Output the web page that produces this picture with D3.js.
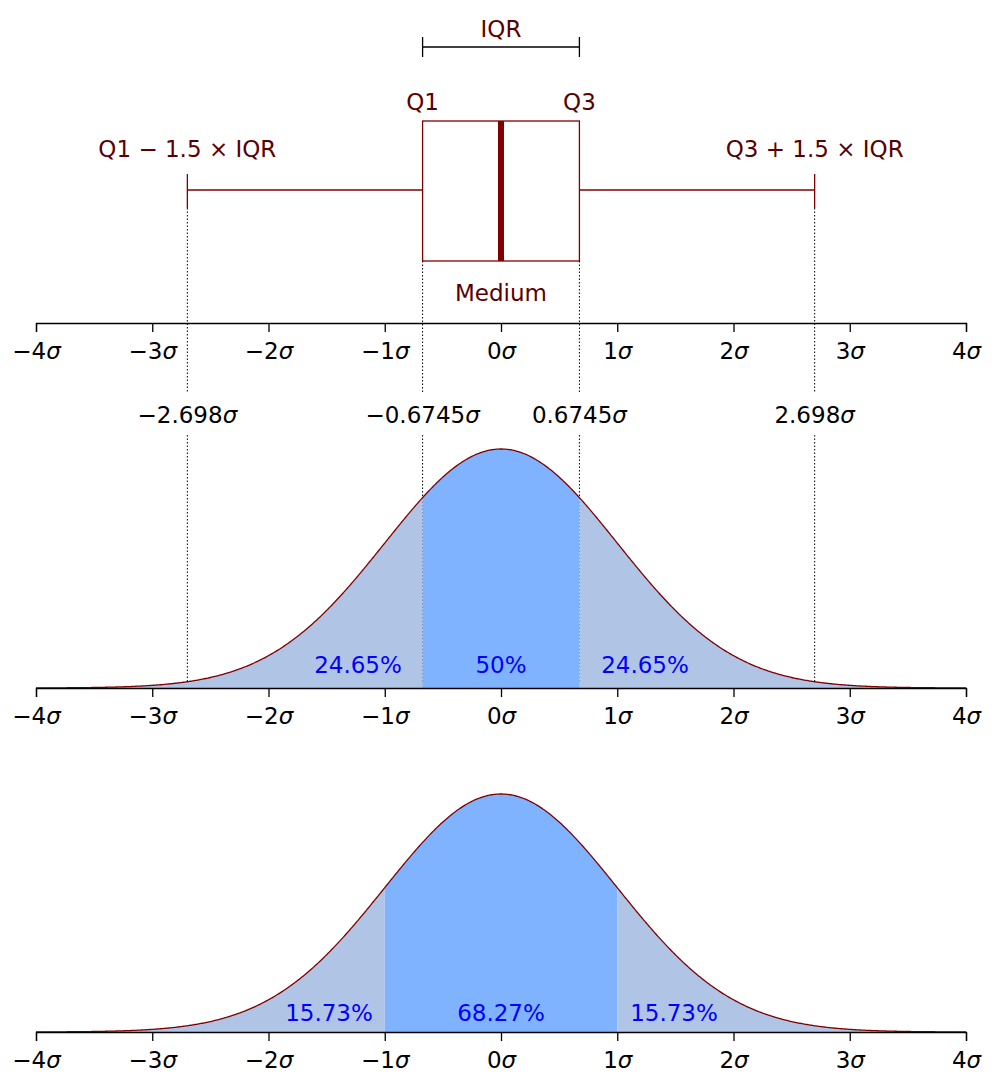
<!DOCTYPE html>
<html><head><meta charset="utf-8">
<script src="https://cdn.jsdelivr.net/npm/d3@7.9.0/dist/d3.min.js"></script>
<style>
body{margin:0;background:#fff}
text{font-family:"DejaVu Sans",sans-serif;font-size:23px}
</style></head><body>
<svg id="chart" width="1000" height="1090"></svg>
<script>
const ticks = [-4, -3, -2, -1, 0, 1, 2, 3, 4];
const quartiles = [-0.6745, 0.6745];
const whiskers = [-2.698, 2.698];
const quartileLabels = ['−2.698', '−0.6745', '0.6745', '2.698'];
const iqrAreas = [[-2.698, -0.6745, '24.65%'], [-0.6745, 0.6745, '50%'], [0.6745, 2.698, '24.65%']];
const sigmaAreas = [[-4, -1, '15.73%'], [-1, 1, '68.27%'], [1, 4, '15.73%']];

const svg = d3.select('#chart');
const x = d3.scaleLinear().domain([-4, 4]).range([36, 966]);
const dark = '#800000', txt = '#5a0000';
const pdf = v => Math.exp(-v * v / 2) / Math.sqrt(2 * Math.PI);

function axis(y0) {
  const g = svg.append('g').attr('transform', `translate(0,${y0})`);
  g.call(d3.axisBottom(x).tickValues(ticks).tickSize(9).tickPadding(6).tickFormat(() => ''));
  g.select('.domain').attr('stroke-width', 1.3);
  g.selectAll('.tick line').attr('stroke-width', 1.3);
  g.selectAll('.tick').append('text').attr('fill', '#000').attr('y', 36)
    .attr('text-anchor', 'middle').style('font-size', '23px')
    .html(d => `${d < 0 ? '−' + (-d) : d}<tspan font-style="italic">σ</tspan>`);
}

// box plot
const by0 = 121, by1 = 261, bym = 190;
svg.append('line').attr('x1', x(quartiles[0])).attr('x2', x(quartiles[1])).attr('y1', 47).attr('y2', 47).attr('stroke', '#000').attr('stroke-width', 1.3);
quartiles.forEach(q => svg.append('line').attr('x1', x(q)).attr('x2', x(q)).attr('y1', 37).attr('y2', 57).attr('stroke', '#000').attr('stroke-width', 1.3));
svg.append('text').attr('x', x(0)).attr('y', 37).attr('text-anchor', 'middle').attr('fill', txt).text('IQR');
svg.append('rect').attr('x', x(quartiles[0])).attr('y', by0).attr('width', x(quartiles[1]) - x(quartiles[0])).attr('height', by1 - by0)
  .attr('fill', 'none').attr('stroke', dark).attr('stroke-width', 1.3);
svg.append('line').attr('x1', x(0)).attr('x2', x(0)).attr('y1', by0).attr('y2', by1).attr('stroke', dark).attr('stroke-width', 6);
[[whiskers[0], quartiles[0]], [quartiles[1], whiskers[1]]].forEach(([a, b]) =>
  svg.append('line').attr('x1', x(a)).attr('x2', x(b)).attr('y1', bym).attr('y2', bym).attr('stroke', dark).attr('stroke-width', 1.3));
whiskers.forEach(w => svg.append('line').attr('x1', x(w)).attr('x2', x(w)).attr('y1', 174).attr('y2', 208).attr('stroke', dark).attr('stroke-width', 1.3));
svg.append('text').attr('x', x(quartiles[0])).attr('y', 110).attr('text-anchor', 'middle').attr('fill', txt).text('Q1');
svg.append('text').attr('x', x(quartiles[1])).attr('y', 110).attr('text-anchor', 'middle').attr('fill', txt).text('Q3');
svg.append('text').attr('x', x(0)).attr('y', 301).attr('text-anchor', 'middle').attr('fill', txt).text('Medium');
svg.append('text').attr('x', x(-2.698)).attr('y', 157).attr('text-anchor', 'middle').attr('fill', txt).text('Q1 − 1.5 × IQR');
svg.append('text').attr('x', x(2.698)).attr('y', 157).attr('text-anchor', 'middle').attr('fill', txt).text('Q3 + 1.5 × IQR');
axis(323);

// dotted guides and labels
const marks = [whiskers[0], quartiles[0], quartiles[1], whiskers[1]];
marks.forEach((m, i) => {
  const ytop = Math.abs(m) > 1 ? 208 : by1;
  svg.append('line').attr('x1', x(m)).attr('x2', x(m)).attr('y1', ytop).attr('y2', 392).attr('stroke', '#000').attr('stroke-dasharray', '1.5,2');
  svg.append('line').attr('x1', x(m)).attr('x2', x(m)).attr('y1', 435).attr('y2', 688).attr('stroke', '#000').attr('stroke-dasharray', '1.5,2');
  svg.append('text').attr('x', x(m)).attr('y', 423).attr('text-anchor', 'middle').attr('fill', '#000')
    .html(`${quartileLabels[i]}<tspan font-style="italic">σ</tspan>`);
});

function density(base, peak, areas) {
  const y = d3.scaleLinear().domain([0, pdf(0)]).range([base, peak]);
  const area = d3.area().x(d => x(d)).y0(base).y1(d => y(pdf(d)));
  const full = d3.range(-4, 4.0001, 0.01);
  svg.append('path').attr('d', area(full.filter(v => v <= areas[0][0] || v >= areas[2][1]))).attr('fill', '#b0c4e6');
  areas.forEach(([a, b], i) => {
    const pts = d3.range(a, b, 0.005).concat([b]);
    svg.append('path').attr('d', area(pts)).attr('fill', i === 1 ? '#80b3ff' : '#b0c4e6');
  });
  svg.append('path').attr('d', d3.line().x(d => x(d)).y(d => y(pdf(d)))(full)).attr('fill', 'none').attr('stroke', dark).attr('stroke-width', 1.3);
  return y;
}

density(688, 449, iqrAreas);
[[358], [501], [645]].forEach(([px], i) =>
  svg.append('text').attr('x', px).attr('y', 673).attr('text-anchor', 'middle').attr('fill', '#0000ff').text(iqrAreas[i][2]));
axis(688);

density(1032, 794, sigmaAreas);
[[329], [501], [674]].forEach(([px], i) =>
  svg.append('text').attr('x', px).attr('y', 1021).attr('text-anchor', 'middle').attr('fill', '#0000ff').text(sigmaAreas[i][2]));
axis(1032);
</script>
</body></html>
